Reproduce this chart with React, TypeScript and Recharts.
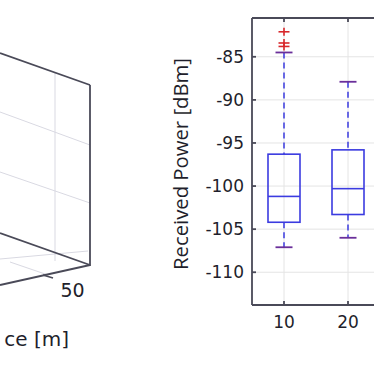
import React from 'react';
import {
  ComposedChart,
  CartesianGrid,
  XAxis,
  YAxis,
  Bar,
  Scatter,
  Label
} from 'recharts';

// distances [m] shown in this crop of the figure
const distances = [10, 20];
// box statistics (dBm)
const lowerWhisker = [-107.1, -106.0];
const q1 = [-104.2, -103.3];
const median = [-101.2, -100.3];
const q3 = [-96.3, -95.8];
const upperWhisker = [-84.5, -87.9];

// outliers, red crosses
const outlierX = [10, 10, 10];
const outlierY = [-82.1, -83.4, -83.8];

const yTicks = [-110, -105, -100, -95, -90, -85];
const xTicks = [10, 20];

const boxData = distances.map((d, i) => ({
  x: d,
  lo: lowerWhisker[i],
  q1: q1[i],
  med: median[i],
  q3: q3[i],
  hi: upperWhisker[i]
}));

const outliers = outlierX.map((x, i) => ({ x, y: outlierY[i] }));

const BLUE = '#3b3be0';
const CAP = '#6a2f9a';
const AXIS = '#4a4a58';
const TEXT = '#1f1f2c';

const BoxShape = (props: any) => {
  const { x, y, width, height, payload } = props;
  const top = Math.min(y, y + height);
  const h = Math.abs(height);
  const ppu = h / (payload.q3 - payload.q1);
  const toPx = (v: number) => top + (payload.q3 - v) * ppu;
  const cx = x + width / 2;
  const capW = 8.5;
  return (
    <g>
      <line x1={cx} x2={cx} y1={toPx(payload.hi)} y2={top} stroke={BLUE} strokeWidth={1.5} strokeDasharray="6 4" />
      <line x1={cx} x2={cx} y1={top + h} y2={toPx(payload.lo)} stroke={BLUE} strokeWidth={1.5} strokeDasharray="6 4" />
      <line x1={cx - capW} x2={cx + capW} y1={toPx(payload.hi)} y2={toPx(payload.hi)} stroke={CAP} strokeWidth={1.8} />
      <line x1={cx - capW} x2={cx + capW} y1={toPx(payload.lo)} y2={toPx(payload.lo)} stroke={CAP} strokeWidth={1.8} />
      <rect x={x} y={top} width={width} height={h} fill="none" stroke={BLUE} strokeWidth={1.6} />
      <line x1={x} x2={x + width} y1={toPx(payload.med)} y2={toPx(payload.med)} stroke={BLUE} strokeWidth={1.6} />
    </g>
  );
};

const PlusShape = (props: any) => {
  const { cx, cy } = props;
  return (
    <g stroke="#d8262a" strokeWidth={1.6}>
      <line x1={cx - 5.5} x2={cx + 5.5} y1={cy} y2={cy} />
      <line x1={cx} x2={cx} y1={cy - 4} y2={cy + 4} />
    </g>
  );
};

const YLabel = () => (
  <text
    transform="translate(180,164) rotate(-90)"
    textAnchor="middle"
    dominantBaseline="central"
    fontFamily="Open Sans"
    fontSize={20}
    fill={TEXT}
    textLength={212}
    lengthAdjust="spacingAndGlyphs"
  >
    Received Power [dBm]
  </text>
);

// cropped corner of the neighbouring 3-D panel
const LeftPanel = () => (
  <svg width={374} height={374} style={{ position: 'absolute', left: 0, top: 0 }}>
    <g stroke="#d9d9e2" strokeWidth={1}>
      <line x1={55} y1={73} x2={55} y2={261} />
      <line x1={0} y1={112} x2={90} y2={145} />
      <line x1={0} y1={172} x2={90} y2={203} />
      <line x1={0} y1={259} x2={88} y2={251} />
      <line x1={10} y1={262} x2={48} y2={275} />
    </g>
    <g stroke={AXIS} strokeWidth={1.8} fill="none">
      <line x1={0} y1={53} x2={90} y2={85} />
      <line x1={90} y1={85} x2={90} y2={266} />
      <line x1={0} y1={233} x2={90} y2={265} />
      <line x1={0} y1={285} x2={90} y2={265} />
      <line x1={43} y1={275} x2={53} y2={278} />
    </g>
    <text x={72.5} y={297} textAnchor="middle" fontFamily="DejaVu Sans" fontSize={19} fill={TEXT}>
      50
    </text>
    <text x={69} y={346} textAnchor="end" fontFamily="DejaVu Sans" fontSize={20} fill={TEXT}>
      ce [m]
    </text>
  </svg>
);

export default function App() {
  return (
    <div
      style={{
        position: 'fixed',
        left: 0,
        top: 0,
        width: 374,
        height: 374,
        overflow: 'hidden',
        background: '#fff'
      }}
    >
      <LeftPanel />
      <div style={{ position: 'absolute', left: 0, top: 0 }}>
        <ComposedChart
          width={444}
          height={374}
          data={boxData}
          margin={{ top: 17, right: 0, bottom: 39, left: 0 }}
        >
          <CartesianGrid stroke="#e4e4e4" strokeWidth={1} />
          <XAxis
            dataKey="x"
            type="number"
            domain={[5, 35]}
            ticks={xTicks}
            interval={0}
            height={30}
            tickSize={-4}
            tickMargin={15}
            stroke={AXIS}
            strokeWidth={1.8}
            tick={{ fontFamily: 'DejaVu Sans', fontSize: 17, fill: TEXT }}
          />
          <XAxis
            xAxisId="top"
            orientation="top"
            dataKey="x"
            type="number"
            domain={[5, 35]}
            ticks={xTicks}
            height={1}
            tickSize={-4}
            stroke={AXIS}
            strokeWidth={1.8}
            tickFormatter={() => ''}
          />
          <YAxis
            type="number"
            domain={[-113.8, -80.5]}
            ticks={yTicks}
            interval={0}
            width={252}
            tickSize={-4}
            tickMargin={12}
            stroke={AXIS}
            strokeWidth={1.8}
            allowDataOverflow
            tick={{ fontFamily: 'DejaVu Sans', fontSize: 17, fill: TEXT }}
          >
            <Label content={<YLabel />} />
          </YAxis>
          <Bar
            dataKey={(d: any) => [d.q1, d.q3]}
            barSize={32}
            shape={<BoxShape />}
            isAnimationActive={false}
          />
          <Scatter
            data={outliers}
            dataKey="y"
            shape={<PlusShape />}
            isAnimationActive={false}
          />
        </ComposedChart>
      </div>
    </div>
  );
}
